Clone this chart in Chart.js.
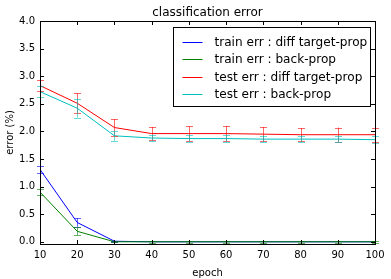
<!DOCTYPE html>
<html lang="en">
<head>
    <meta charset="UTF-8">
    <title>classification error</title>
    <script src="https://cdn.jsdelivr.net/npm/chart.js"></script>
    <style>
        body { margin: 0; background: #fff; }
        .wrap { width: 391px; height: 279px; }
    </style>
</head>
<body>
    <div class="wrap"><canvas id="chart" width="391" height="279"></canvas></div>
    <script>
        // data
        const epochs = [10, 20, 30, 40, 50, 60, 70, 80, 90, 100];
        const trainDiffTp = [1.31, 0.35, 0.01, 0.0, 0.0, 0.0, 0.0, 0.0, 0.0, 0.0];
        const trainDiffTpErr = [0.06, 0.08, 0.01, 0, 0, 0, 0, 0, 0, 0];
        const trainBp = [0.90, 0.19, 0.0, 0.0, 0.0, 0.0, 0.0, 0.0, 0.0, 0.0];
        const trainBpErr = [0.05, 0.07, 0.01, 0.02, 0.02, 0.02, 0.02, 0.02, 0.02, 0.02];
        const testDiffTp = [2.83, 2.51, 2.07, 1.96, 1.96, 1.96, 1.95, 1.94, 1.94, 1.94];
        const testDiffTpErr = [0.1, 0.18, 0.15, 0.12, 0.13, 0.14, 0.13, 0.12, 0.13, 0.13];
        const testBp = [2.72, 2.42, 1.92, 1.88, 1.87, 1.87, 1.86, 1.86, 1.86, 1.85];
        const testBpErr = [0.1, 0.17, 0.09, 0.06, 0.06, 0.06, 0.06, 0.06, 0.06, 0.06];
        const yTicks = [0, 0.5, 1.0, 1.5, 2.0, 2.5, 3.0, 3.5, 4.0];
        const chartTitle = 'classification error';

        const font = "'DejaVu Sans', sans-serif";

        function series(label, ys, errs, color, barColor, order) {
            return {
                label: label,
                data: epochs.map((x, i) => ({ x: x, y: ys[i] })),
                errors: errs,
                borderColor: color,
                barColor: barColor,
                backgroundColor: color,
                borderWidth: 1,
                pointRadius: 0,
                tension: 0,
                order: order
            };
        }

        // error bars, frame, inward ticks, title and legend box like matplotlib
        const mplPlugin = {
            id: 'mpl',
            afterDatasetsDraw(chart) {
                const ctx = chart.ctx;
                const xs = chart.scales.x, ys = chart.scales.y;
                ctx.save();
                chart.data.datasets.forEach(ds => {
                    ctx.strokeStyle = ds.barColor;
                    ctx.lineWidth = 1;
                    ds.data.forEach((p, i) => {
                        const e = ds.errors[i];
                        if (!e) return;
                        const px = Math.round(xs.getPixelForValue(p.x)) + 0.5;
                        const y1 = ys.getPixelForValue(p.y + e);
                        const y2 = ys.getPixelForValue(p.y - e);
                        ctx.beginPath();
                        ctx.moveTo(px, y1); ctx.lineTo(px, y2);
                        ctx.moveTo(px - 3.5, Math.round(y1) + 0.5); ctx.lineTo(px + 3.5, Math.round(y1) + 0.5);
                        ctx.moveTo(px - 3.5, Math.round(y2) + 0.5); ctx.lineTo(px + 3.5, Math.round(y2) + 0.5);
                        ctx.stroke();
                    });
                });
                ctx.restore();
            },
            afterDraw(chart) {
                const ctx = chart.ctx;
                const a = chart.chartArea;
                const xs = chart.scales.x, ys = chart.scales.y;
                ctx.save();
                ctx.strokeStyle = '#000';
                ctx.lineWidth = 1;
                ctx.strokeRect(Math.round(a.left) + 0.5, Math.round(a.top) + 0.5,
                    Math.round(a.right - a.left), Math.round(a.bottom - a.top));
                ctx.beginPath();
                xs.ticks.forEach(t => {
                    const px = Math.round(xs.getPixelForValue(t.value)) + 0.5;
                    ctx.moveTo(px, a.bottom); ctx.lineTo(px, a.bottom - 4);
                    ctx.moveTo(px, a.top); ctx.lineTo(px, a.top + 4);
                });
                ys.ticks.forEach(t => {
                    const py = Math.round(ys.getPixelForValue(t.value)) + 0.5;
                    ctx.moveTo(a.left, py); ctx.lineTo(a.left + 4, py);
                    ctx.moveTo(a.right, py); ctx.lineTo(a.right - 4, py);
                });
                ctx.stroke();

                // title centred over the plot area
                ctx.fillStyle = '#000';
                ctx.font = '12px ' + font;
                ctx.textAlign = 'center';
                ctx.textBaseline = 'alphabetic';
                ctx.fillText(chartTitle, (a.left + a.right) / 2, 16);

                // legend
                const lx = 173.5, ly = 27.5, lw = 197, lh = 79;
                ctx.fillStyle = '#fff';
                ctx.fillRect(lx, ly, lw, lh);
                ctx.strokeRect(lx, ly, lw, lh);
                ctx.font = '12.1px ' + font;
                ctx.textAlign = 'left';
                ctx.textBaseline = 'middle';
                chart.data.datasets.forEach((ds, i) => {
                    const y = Math.round(ly + 14 + i * 17.5) + 0.5;
                    ctx.strokeStyle = ds.borderColor;
                    ctx.beginPath();
                    ctx.moveTo(lx + 9, y); ctx.lineTo(lx + 29, y);
                    ctx.stroke();
                    ctx.fillStyle = '#000';
                    ctx.fillText(ds.label, lx + 41, y);
                });
                ctx.restore();
            }
        };

        new Chart(document.getElementById('chart'), {
            type: 'line',
            data: {
                datasets: [
                    series('train err : diff target-prop', trainDiffTp, trainDiffTpErr, '#0000ff', 'rgba(0,0,255,0.6)', 4),
                    series('train err : back-prop', trainBp, trainBpErr, '#008000', 'rgba(0,128,0,0.6)', 3),
                    series('test err : diff target-prop', testDiffTp, testDiffTpErr, '#ff0000', 'rgba(255,0,0,0.6)', 2),
                    series('test err : back-prop', testBp, testBpErr, '#00bfbf', 'rgba(0,191,191,0.6)', 1)
                ]
            },
            options: {
                responsive: false,
                animation: false,
                layout: { padding: { left: 4, right: 16, top: 21, bottom: 0 } },
                plugins: {
                    legend: { display: false },
                    tooltip: { enabled: false },
                    title: { display: false }
                },
                scales: {
                    x: {
                        type: 'linear',
                        min: 10, max: 100,
                        grid: { display: false, drawTicks: false },
                        border: { display: false },
                        ticks: { stepSize: 10, color: '#000', padding: 5, maxRotation: 0,
                                 font: { family: font, size: 10 } },
                        title: { display: true, text: 'epoch', color: '#000', padding: 0,
                                 font: { family: font, size: 10 } },
                        afterFit(s) { s.height = 35; }
                    },
                    y: {
                        min: -0.04, max: 4.0,
                        grid: { display: false, drawTicks: false },
                        border: { display: false },
                        afterBuildTicks(s) { s.ticks = yTicks.map(v => ({ value: v })); },
                        ticks: { color: '#000', padding: 5,
                                 font: { family: font, size: 10 },
                                 callback: v => v.toFixed(1) },
                        title: { display: true, text: 'error (%)', color: '#000', padding: 0,
                                 font: { family: font, size: 10 } },
                        afterFit(s) { s.width = 36; }
                    }
                }
            },
            plugins: [mplPlugin]
        });
    </script>
</body>
</html>
